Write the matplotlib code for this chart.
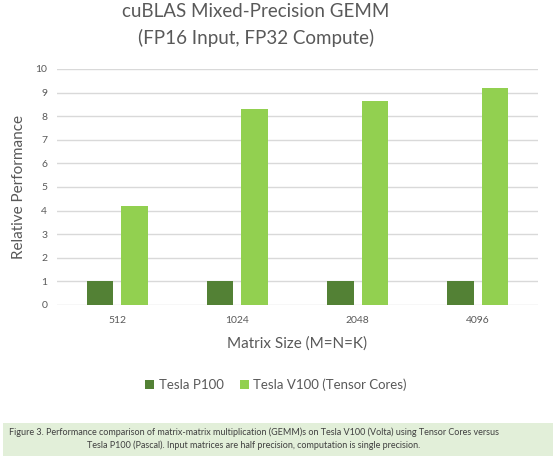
import matplotlib
matplotlib.use("Agg")
import matplotlib.pyplot as plt
from matplotlib.patches import Rectangle
import numpy as np

categories = ["512", "1024", "2048", "4096"]
p100 = [1, 1, 1, 1]
v100 = [4.2, 8.3, 8.65, 9.2]
series_names = ["Tesla P100", "Tesla V100 (Tensor Cores)"]
yticks = list(range(0, 11))
title = "cuBLAS Mixed-Precision GEMM\n(FP16 Input, FP32 Compute)"
xlabel = "Matrix Size (M=N=K)"
ylabel = "Relative Performance"
caption = ("Figure 3. Performance comparison of matrix-matrix multiplication (GEMM)s on Tesla V100 (Volta) using Tensor Cores versus\n"
           "Tesla P100 (Pascal). Input matrices are half precision, computation is single precision.")

FONT = ["Lato", "DejaVu Sans"]
plt.rcParams['font.family'] = FONT
GRAY = "#595959"
DARK = "#538135"
LIGHT = "#92D050"

fig = plt.figure(figsize=(5.57, 4.59), dpi=100)
ax = fig.add_axes([57/557, 1-305/459, (538-57)/557, (305-69)/459])

x = np.arange(len(categories))
w = 0.22
gap = 0.067
ax.bar(x - (w+gap)/2, p100, w, color=DARK, label=series_names[0], zorder=3)
ax.bar(x + (w+gap)/2, v100, w, color=LIGHT, label=series_names[1], zorder=3)

ax.set_xlim(-0.5, len(categories)-0.5)
ax.set_ylim(0, 10)
ax.set_yticks(yticks)
ax.set_xticks(x)
ax.set_xticklabels(categories)
ax.grid(axis='y', color="#D9D9D9", linewidth=1, zorder=0)
for s in ax.spines.values():
    s.set_visible(False)
ax.tick_params(axis='both', length=0, colors=GRAY, labelsize=7.5)
ax.tick_params(axis='y', pad=7)
ax.tick_params(axis='x', pad=8)

ax.set_xlabel(xlabel, fontsize=11, color=GRAY, labelpad=8)
ax.set_ylabel(ylabel, fontsize=11, color=GRAY, labelpad=7)

fig.text(256/557, 1-25/459, title, ha='center', va='center', fontsize=13.5, color=GRAY, linespacing=1.55)

leg = fig.legend(loc='center', bbox_to_anchor=(276/557, 1-385/459), ncol=2, frameon=False,
                 fontsize=9.5, handlelength=0.7, handleheight=0.7, handletextpad=0.35, columnspacing=1.2)
for t in leg.get_texts():
    t.set_color(GRAY)

box = Rectangle((3/557, 1-456/459), (553-3)/557, (456-423)/459, transform=fig.transFigure,
                facecolor="#E2EFD9", edgecolor="none")
fig.patches.append(box)
fig.text(254/557, 1-439/459, caption, ha='center', va='center', fontsize=6.5, color="#404040", linespacing=1.45)

fig.savefig("out.png", dpi=100, facecolor="white")
